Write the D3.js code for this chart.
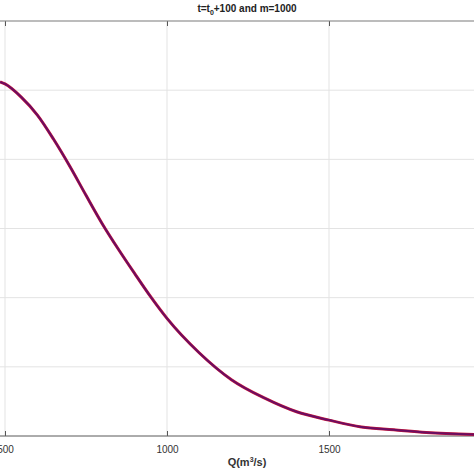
<!DOCTYPE html>
<html><head><meta charset="utf-8">
<script src="https://cdn.jsdelivr.net/npm/d3@7"></script>
<style>body{margin:0;background:#fff}text{font-family:Arial,"Liberation Sans",sans-serif}</style>
</head><body>
<svg id="c" width="474" height="474"></svg>
<script>
var qVals = [485,500,550,600,650,700,750,800,850,900,950,1000,1100,1200,1300,1400,1500,1600,1700,1800,1950];
var pVals = [5.12,5.09,4.9,4.64,4.29,3.9,3.48,3.07,2.7,2.35,2.01,1.7,1.2,0.81,0.55,0.35,0.23,0.13,0.09,0.05,0.02];
var xTicks = [500,1000,1500];
var yGrid = [0,1,2,3,4,5,6];

var svg = d3.select("#c");
var plotTop = 21, plotBottom = 436;
var x = d3.scaleLinear().domain([500,1500]).range([5,329]);
var y = d3.scaleLinear().domain([0,6]).range([plotBottom, plotTop]);
var data = qVals.map(function(q,i){ return {q:q, p:pVals[i]}; });

// grid
svg.selectAll(".vg").data(xTicks).enter().append("line")
    .attr("x1", d => x(d)).attr("x2", d => x(d)).attr("y1", plotTop).attr("y2", plotBottom)
    .attr("stroke", "#e3e3e3");
svg.selectAll(".hg").data(yGrid).enter().append("line")
    .attr("x1", 0).attr("x2", 474).attr("y1", d => y(d)).attr("y2", d => y(d))
    .attr("stroke", "#e3e3e3");

// axes
svg.append("g").attr("transform", "translate(0," + plotBottom + ")")
    .call(d3.axisBottom(x).tickValues(xTicks).tickSize(-5).tickPadding(10).tickFormat(d3.format("d")))
    .call(g => { g.select(".domain").remove(); g.selectAll("line").attr("stroke","#555");
        g.selectAll("text").attr("fill","#333").style("font-size","10px"); });
svg.append("g").attr("transform", "translate(0," + plotTop + ")")
    .call(d3.axisTop(x).tickValues(xTicks).tickSize(-5).tickFormat(""))
    .call(g => { g.select(".domain").remove(); g.selectAll("line").attr("stroke","#555"); });
svg.append("line").attr("x1",0).attr("x2",474).attr("y1",plotBottom).attr("y2",plotBottom).attr("stroke","#666");
svg.append("line").attr("x1",0).attr("x2",474).attr("y1",plotTop).attr("y2",plotTop).attr("stroke","#888").attr("stroke-width",1.2);

// curves
var line = d3.line().x(d => x(d.q)).y(d => y(d.p)).curve(d3.curveMonotoneX);
svg.append("path").datum(data).attr("d", line).attr("fill","none")
    .attr("stroke","#cc1a3a").attr("stroke-width",3);
svg.append("path").datum(data).attr("d", line).attr("fill","none")
    .attr("stroke","#6b0d62").attr("stroke-width",2);

// title
var t = svg.append("text").attr("x", 247).attr("y", 12).attr("text-anchor","middle")
    .style("font-size","10px").style("font-weight","bold").attr("fill","#222");
t.append("tspan").text("t=t");
t.append("tspan").attr("dy",3).style("font-size","7px").text("0");
t.append("tspan").attr("dy",-3).text("+100 and m=1000");

// x label
var xl = svg.append("text").attr("x", 247).attr("y", 466).attr("text-anchor","middle")
    .style("font-size","11px").style("font-weight","bold").attr("fill","#333");
xl.append("tspan").text("Q(m");
xl.append("tspan").attr("dy",-4).style("font-size","7px").text("3");
xl.append("tspan").attr("dy",4).text("/s)");
</script>
</body></html>
